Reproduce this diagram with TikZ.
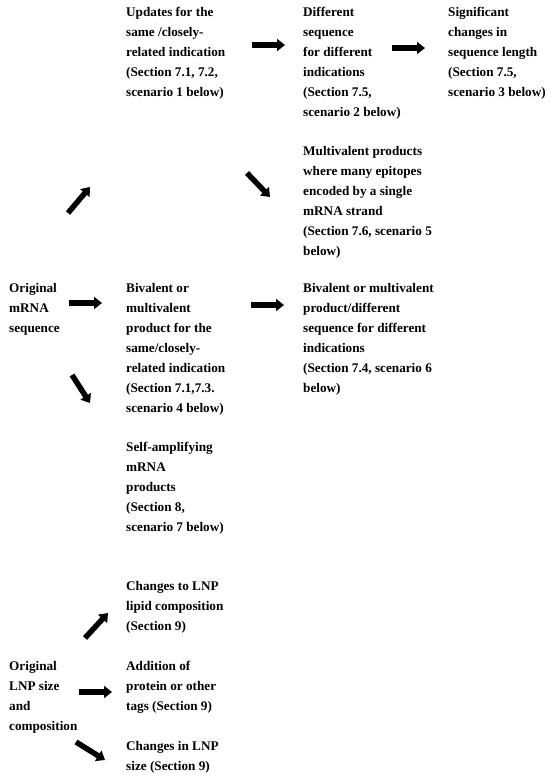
\documentclass[tikz,border=0pt]{standalone}
\usepackage{fontspec}
\setmainfont{Liberation Serif}
\usetikzlibrary{arrows.meta}

\begin{document}
\begin{tikzpicture}[
            x = 1pt, y = -1pt, % pixel-like units, y downwards
            > = {Triangle[length=8pt, width=12pt]}, % arrow head style
            fat/.style = {->, line width = 5.5pt}, % thick block arrows
            txt/.style = {
                anchor = north west,
                inner sep = 0pt,
                align = left,
                font = \fontsize{13.2}{20}\selectfont\bfseries
            }
        ]

        \useasboundingbox (0,0) rectangle (550,782);

        % mRNA sequence changes
        \node (upd) [txt] at (126,7) {Updates for the\\same /closely-\\related indication\\(Section 7.1, 7.2,\\scenario 1 below)};
        \node (dif) [txt] at (303,7) {Different\\sequence\\for different\\indications\\(Section 7.5,\\scenario 2 below)};
        \node (sig) [txt] at (448,7) {Significant\\changes in\\sequence length\\(Section 7.5,\\scenario 3 below)};
        \node (mul) [txt] at (303,146) {Multivalent products\\where many epitopes\\encoded by a single\\mRNA strand\\(Section 7.6, scenario 5\\below)};
        \node (orm) [txt] at (9,283) {Original\\mRNA\\sequence};
        \node (biv) [txt] at (126,283) {Bivalent or\\multivalent\\product for the\\same/closely-\\related indication\\(Section 7.1,7.3.\\scenario 4 below)};
        \node (bvd) [txt] at (303,283) {Bivalent or multivalent\\product/different\\sequence for different\\indications\\(Section 7.4, scenario 6\\below)};
        \node (saf) [txt] at (126,442) {Self-amplifying\\mRNA\\products\\(Section 8,\\scenario 7 below)};

        % LNP changes
        \node (lip) [txt] at (126,581) {Changes to LNP\\lipid composition\\(Section 9)};
        \node (oln) [txt] at (9,661) {Original\\LNP size\\and\\composition};
        \node (tag) [txt] at (126,661) {Addition of\\protein or other\\tags (Section 9)};
        \node (siz) [txt] at (126,741) {Changes in LNP\\size (Section 9)};

        % arrow end points
        \coordinate (a1) at (252,45);  \coordinate (b1) at (285,45);
        \coordinate (a2) at (392,48);  \coordinate (b2) at (425,48);
        \coordinate (a3) at (247,173); \coordinate (b3) at (270,197);
        \coordinate (a4) at (68,213);  \coordinate (b4) at (90,187);
        \coordinate (a5) at (69,303);  \coordinate (b5) at (102,303);
        \coordinate (a6) at (251,305); \coordinate (b6) at (284,305);
        \coordinate (a7) at (72,375);  \coordinate (b7) at (90,403);
        \coordinate (a8) at (85,638);  \coordinate (b8) at (108,613);
        \coordinate (a9) at (79,692);  \coordinate (b9) at (112,692);
        \coordinate (a10) at (76,742); \coordinate (b10) at (105,760);

        \foreach \i in {1,...,10}
            \draw[fat] (a\i) -- (b\i);

    \end{tikzpicture}
\end{document}
